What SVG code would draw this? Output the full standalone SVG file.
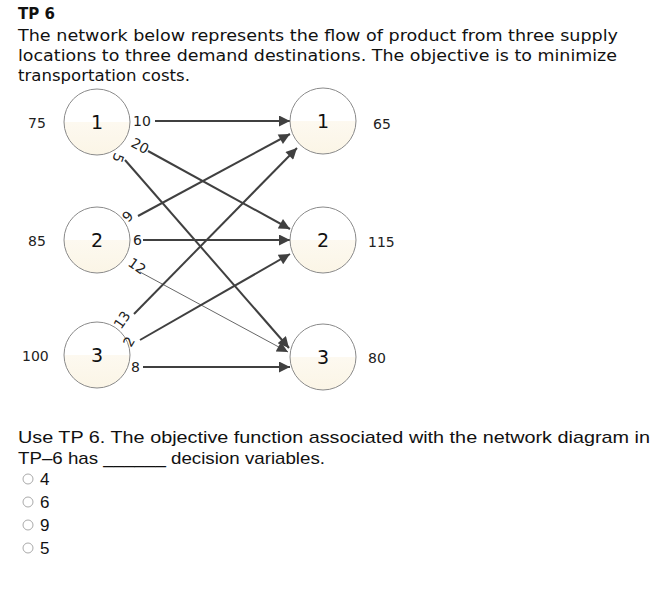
<svg xmlns="http://www.w3.org/2000/svg" width="659" height="592" viewBox="0 0 659 592">
<defs>
<marker id="ahb" viewBox="0 0 10 10" refX="10" refY="5" markerWidth="14" markerHeight="11" orient="auto" markerUnits="userSpaceOnUse"><path d="M0,0 L10,5 L0,10 z" fill="#404040"/></marker>
<linearGradient id="g" x1="0" y1="0" x2="0" y2="1"><stop offset="0.5" stop-color="#ffffff"/><stop offset="0.5" stop-color="#fdf9f0"/><stop offset="1" stop-color="#fbf5e6"/></linearGradient>
</defs>
<style>
.t{font-family:"DejaVu Sans",sans-serif;font-size:15px;fill:#111}
.q{font-family:"Liberation Sans",sans-serif;font-size:17px;fill:#111}
.n{fill:url(#g);stroke:#8a8a8a;stroke-width:1}
.nl{font-family:"DejaVu Sans",sans-serif;font-size:19px;fill:#111;text-anchor:middle}
.v{font-family:"DejaVu Sans",sans-serif;font-size:14px;fill:#222}
.c{font-family:"DejaVu Sans",sans-serif;font-size:14px;fill:#222}
.e{stroke:#404040;stroke-width:2;fill:none;marker-end:url(#ahb)}
</style>
<rect width="659" height="592" fill="#fff"/>
<text class="t" x="18" y="19" font-weight="bold">TP 6</text>
<text class="t" x="18" y="41" textLength="600" lengthAdjust="spacingAndGlyphs">The network below represents the flow of product from three supply</text>
<text class="t" x="18" y="61" textLength="599" lengthAdjust="spacingAndGlyphs">locations to three demand destinations. The objective is to minimize</text>
<text class="t" x="18" y="81" textLength="172" lengthAdjust="spacingAndGlyphs">transportation costs.</text>
<g id="connectors">
<line class="e" x1="155" y1="121" x2="290" y2="121"/>
<line class="e" x1="148" y1="151" x2="290" y2="229"/>
<line class="e" x1="125" y1="160" x2="289" y2="348"/>
<line class="e" x1="138" y1="216" x2="290" y2="134"/>
<line class="e" x1="143" y1="240" x2="290" y2="240"/>
<line x1="140" y1="272" x2="288" y2="352" stroke="#404040" stroke-width="0.8" marker-end="url(#ahb)"/>
<line class="e" x1="134" y1="314" x2="297" y2="148"/>
<line class="e" x1="140" y1="340" x2="290" y2="254"/>
<line class="e" x1="143" y1="367" x2="290" y2="367"/>
</g>
<g id="s1"><circle class="n" cx="97" cy="122" r="33"/><text class="nl" x="97" y="129">1</text><text class="v" x="28" y="128">75</text></g>
<g id="s2"><circle class="n" cx="97" cy="240" r="33"/><text class="nl" x="97" y="247">2</text><text class="v" x="28" y="246">85</text></g>
<g id="s3"><circle class="n" cx="97" cy="355" r="33"/><text class="nl" x="97" y="362">3</text><text class="v" x="22" y="361">100</text></g>
<g id="d1"><circle class="n" cx="323" cy="121" r="33"/><text class="nl" x="323" y="128">1</text><text class="v" x="373" y="129">65</text></g>
<g id="d2"><circle class="n" cx="323" cy="240" r="33"/><text class="nl" x="323" y="247">2</text><text class="v" x="368" y="247">115</text></g>
<g id="d3"><circle class="n" cx="323" cy="357" r="33"/><text class="nl" x="323" y="364">3</text><text class="v" x="368" y="363">80</text></g>
<g id="costs">
<text class="c" x="133" y="126">10</text>
<text class="c" x="130" y="146" transform="rotate(28 130 146)">20</text>
<text class="c" x="115" y="152" transform="rotate(110 115 152)">5</text>
<text class="c" x="128" y="223" transform="rotate(-45 128 223)">9</text>
<text class="c" x="133" y="245">6</text>
<text class="c" x="127" y="265" transform="rotate(35 127 265)">12</text>
<text class="c" x="121" y="330" transform="rotate(-55 121 330)">13</text>
<text class="c" x="131" y="348" transform="rotate(-60 131 348)">2</text>
<text class="c" x="131" y="372">8</text>
</g>
<g id="question">
<text class="q" x="18" y="443" textLength="632" lengthAdjust="spacingAndGlyphs">Use TP 6. The objective function associated with the network diagram in</text>
<text class="q" x="18" y="464" textLength="307" lengthAdjust="spacingAndGlyphs">TP–6 has ______ decision variables.</text>
<g fill="#fff" stroke="#aaa"><circle cx="28" cy="479" r="5"/><circle cx="28" cy="502" r="5"/><circle cx="28" cy="525" r="5"/><circle cx="28" cy="548" r="5"/></g>
<text class="q" x="40" y="485">4</text>
<text class="q" x="40" y="508">6</text>
<text class="q" x="40" y="531">9</text>
<text class="q" x="40" y="554">5</text>
</g>
</svg>
